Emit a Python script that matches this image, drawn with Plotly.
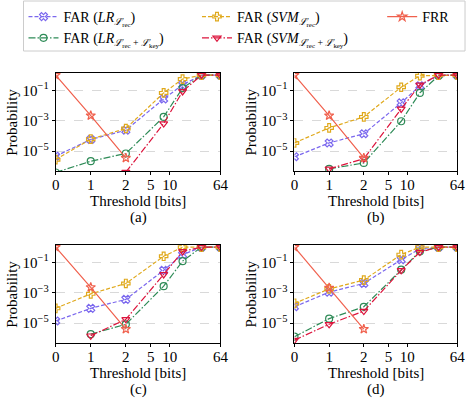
import numpy as np
import plotly.graph_objects as go

W, H = 474, 399

thresholds = [0, 1, 2, 8, 16, 32, 64]
x_tick_vals = [0, 1, 2, 5, 10, 64]
x_tick_text = ["0", "1", "2", "5", "10", "64"]
y_tick_vals = [1e-1, 1e-3, 1e-5]
y_tick_text = ["10<sup>−1</sup>", "10<sup>−3</sup>", "10<sup>−5</sup>"]
panel_labels = ["(a)", "(b)", "(c)", "(d)"]

# panel (a)
a_lr_rec = [4.7e-6, 5.9e-5, 2.4e-4, 2.7e-2, 0.23, 1.0, 1.0]
a_svm_rec = [2.8e-6, 6.2e-5, 3.1e-4, 6.8e-2, 0.55, 1.0, 1.0]
a_frr = [1.0, 2.2e-3, 3.6e-6, None, None, None, None]
a_lr_rk = [4.0e-7, 2.2e-6, 7.1e-6, 1.8e-3, 0.14, 1.0, 1.0]
a_svm_rk = [None, None, 4.2e-7, 6.5e-4, 8.5e-2, 1.0, 1.0]
# panel (b)
b_lr_rec = [4.3e-6, 3.5e-5, 1.4e-4, 1.5e-2, 0.20, 1.0, 1.0]
b_svm_rec = [3.5e-5, 3.4e-4, 1.8e-3, 0.16, 0.91, 1.0, 1.0]
b_frr = [1.0, 2.2e-3, 3.6e-6, None, None, None, None]
b_lr_rk = [None, 6.9e-7, 1.7e-6, 9.3e-4, 6.8e-2, 0.91, 1.0]
b_svm_rk = [None, 6.9e-7, 3.2e-6, 6.0e-3, 0.23, 1.0, 1.0]
# panel (c)
c_lr_rec = [1.4e-5, 9.5e-5, 3.7e-4, 3.0e-2, 0.32, 1.0, 1.0]
c_svm_rec = [9.5e-5, 8.5e-4, 4.1e-3, 0.25, 1.0, 1.0, 1.0]
c_frr = [1.0, 2.3e-3, 4.1e-6, None, None, None, None]
c_lr_rk = [None, 1.9e-6, 8.5e-6, 2.7e-3, 0.12, 1.0, 1.0]
c_svm_rk = [None, 1.5e-6, 1.8e-5, 1.6e-2, 0.52, 1.0, 1.0]
# panel (d)
d_lr_rec = [1.2e-4, 1.1e-3, 4.1e-3, 0.15, 0.78, 1.0, 1.0]
d_svm_rec = [2.0e-4, 1.8e-3, 6.8e-3, 0.32, 1.0, 1.0, 1.0]
d_frr = [1.0, 2.1e-3, 4.1e-6, None, None, None, None]
d_lr_rk = [1.3e-6, 2.0e-5, 1.2e-4, 3.3e-2, 0.52, 1.0, 1.0]
d_svm_rk = [7.8e-7, 8.5e-6, 6.3e-5, 3.0e-2, 0.47, 1.0, 1.0]

panels = [
    dict(lr_rec=a_lr_rec, svm_rec=a_svm_rec, frr=a_frr, lr_rk=a_lr_rk, svm_rk=a_svm_rk),
    dict(lr_rec=b_lr_rec, svm_rec=b_svm_rec, frr=b_frr, lr_rk=b_lr_rk, svm_rk=b_svm_rk),
    dict(lr_rec=c_lr_rec, svm_rec=c_svm_rec, frr=c_frr, lr_rk=c_lr_rk, svm_rk=c_svm_rk),
    dict(lr_rec=d_lr_rec, svm_rec=d_svm_rec, frr=d_frr, lr_rk=d_lr_rk, svm_rk=d_svm_rk),
]

K = 1.79
def xf(t):
    # linear up to 2, logarithmic above (symlog-like)
    return t if t <= 2 else 2 + K * np.log10(t / 2)

FONT = "Liberation Serif"

series = [
    # key, name, color, symbol, dash, legend
    ("lr_rec", "FAR (<i>LR</i><sub><i>ℒ</i><sub>rec</sub></sub>)", "#7b68ee", "x-open", "4px,2px", "legend"),
    ("lr_rk", "FAR (<i>LR</i><sub><i>ℒ</i><sub>rec</sub> + <i>ℒ</i><sub>key</sub></sub>)", "#2e8b57", "circle-open", "7px,2px,1.5px,2px", "legend"),
    ("svm_rec", "FAR (<i>SVM</i><sub><i>ℒ</i><sub>rec</sub></sub>)", "#e0a91c", "cross-open", "4px,2px", "legend2"),
    ("svm_rk", "FAR (<i>SVM</i><sub><i>ℒ</i><sub>rec</sub> + <i>ℒ</i><sub>key</sub></sub>)", "#dc143c", "triangle-down-open", "7px,2px,1.5px,2px", "legend2"),
    ("frr", "FRR", "#f0604d", "star-open", "solid", "legend3"),
]

def px_x(p):
    return p / W
def px_y(p):
    return 1 - p / H

x_domains = [(53, 222), (298, 465)]
y_domains = [(73, 171), (245, 343)]

fig = go.Figure()
xs = [xf(t) for t in thresholds]

layout_axes = {}
for i in range(4):
    r, c = divmod(i, 2)
    idx = "" if i == 0 else str(i + 1)
    xa, ya = "x" + idx, "y" + idx
    for key, name, color, sym, dash, leg in series:
        fig.add_trace(go.Scatter(
            x=xs, y=panels[i][key], mode="lines+markers", name=name,
            xaxis=xa, yaxis=ya, legend=leg, legendgroup=key, showlegend=(i == 0),
            line=dict(color=color, width=1.2, dash=dash),
            marker=dict(symbol=sym, size=7, color=color, line=dict(color=color, width=1.2)),
            connectgaps=False,
        ))
    xd = x_domains[c]
    yd = y_domains[r]
    layout_axes["xaxis" + idx] = dict(
        domain=[px_x(xd[0]), px_x(xd[1])], anchor=ya, range=[0, xf(64)],
        tickvals=[xf(v) for v in x_tick_vals], ticktext=x_tick_text,
        ticks="outside", ticklen=3, tickwidth=1, tickcolor="black",
        showline=True, linecolor="black", linewidth=1, mirror=True,
        showgrid=False, zeroline=False, ticklabelstandoff=-3,
        tickfont=dict(family=FONT, size=15, color="black"),
    )
    layout_axes["yaxis" + idx] = dict(
        domain=[px_y(yd[1]), px_y(yd[0])], anchor=xa, type="log", range=[-6.3, 0.14],
        tickvals=y_tick_vals, ticktext=y_tick_text,
        ticks="outside", ticklen=3, tickwidth=1, tickcolor="black",
        showline=True, linecolor="black", linewidth=1, mirror=True,
        showgrid=True, gridcolor="#d9d9d9", griddash="dash", gridwidth=0.8,
        zeroline=False,
        tickfont=dict(family=FONT, size=15, color="black"),
    )

annotations = []
title_font = dict(family=FONT, size=15, color="black")
for i in range(4):
    r, c = divmod(i, 2)
    xd = x_domains[c]
    yd = y_domains[r]
    cx = (xd[0] + xd[1]) / 2
    annotations.append(dict(text="Threshold [bits]", x=px_x(cx), y=px_y(yd[1] + 30), xref="paper", yref="paper",
                            showarrow=False, font=title_font, xanchor="center", yanchor="middle"))
    annotations.append(dict(text=panel_labels[i], x=px_x(cx), y=px_y(yd[1] + 46), xref="paper", yref="paper",
                            showarrow=False, font=title_font, xanchor="center", yanchor="middle"))
    annotations.append(dict(text="Probability", x=px_x(xd[0] - 45), y=px_y((yd[0] + yd[1]) / 2), xref="paper", yref="paper",
                            showarrow=False, font=title_font, textangle=-90, xanchor="center", yanchor="middle"))

leg_common = dict(orientation="v", yanchor="top", xanchor="left", bgcolor="rgba(0,0,0,0)",
                  borderwidth=0, font=dict(family=FONT, size=14, color="black"), tracegroupgap=0)

fig.update_layout(
    width=W, height=H, margin=dict(l=0, r=0, t=0, b=0),
    paper_bgcolor="white", plot_bgcolor="white",
    font=dict(family=FONT),
    showlegend=True,
    legend=dict(x=px_x(20), y=px_y(1), **leg_common),
    legend2=dict(x=px_x(198), y=px_y(1), **leg_common),
    legend3=dict(x=px_x(388), y=px_y(1), **leg_common),
    annotations=annotations,
    shapes=[dict(type="rect", xref="paper", yref="paper", x0=px_x(20), x1=px_x(473), y0=px_y(51), y1=px_y(1),
                 line=dict(color="#cccccc", width=1))],
    **layout_axes,
)

fig.write_html("out.html", config={"displayModeBar": False},
               post_script="document.body.style.margin='0';document.body.style.overflow='hidden';")
